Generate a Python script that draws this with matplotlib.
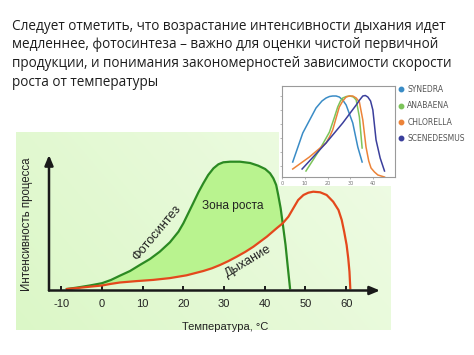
"""
Slide: temperature vs photosynthesis / respiration, with inset of algae growth curves.
"""

import matplotlib
matplotlib.use("Agg")
import matplotlib.pyplot as plt
from matplotlib.lines import Line2D
import numpy as np

W, H = 474, 355

# ---------------------------------------------------------------------------
# Data
# ---------------------------------------------------------------------------

title_lines = [
    "Следует отметить, что возрастание интенсивности дыхания идет",
    "медленнее, фотосинтеза – важно для оценки чистой первичной",
    "продукции, и понимания закономерностей зависимости скорости",
    "роста от температуры",
]

# main chart: temperature (°C) and relative intensity
photo_t = [-8.6, -6, -3, 0, 2.2, 4.4, 6.9, 9.3, 11.8, 14.2, 16.7, 18.8,
           20.0, 21.2, 22.4, 23.7, 24.9, 26.1, 27.4, 28.6, 29.8, 31.5,
           33.9, 36.4, 38.4, 40.1, 41.3, 42.1, 42.8, 43.3, 43.9, 44.4,
           45.1, 45.6, 46.2]
photo_y = [1.5, 3, 5, 7.3, 10.5, 14.8, 19.5, 25.5, 31.5, 38.8, 48.2, 58.8,
           67.2, 77.2, 87.2, 98.2, 107.2, 115.5, 122.2, 126.2, 128.2, 128.8,
           128.8, 127.5, 124.8, 121.5, 117.2, 112.2, 105.5, 95.5, 82.2, 67.2,
           45.5, 25.5, 2.2]

resp_t = [-8.6, -6, -3, 0, 2, 4.4, 8.5, 12.6, 16.7, 20.8, 24.9, 27, 29.0,
          31, 33.1, 35.2, 37.2, 40.5, 42.9, 44.4, 45.8, 47.0, 48.2, 49.5,
          50.7, 51.9, 53.6, 55.2, 56.8, 58.1, 58.9, 59.5, 60.1, 60.5, 60.8,
          61.0]
resp_y = [1.5, 2.5, 3.8, 5.0, 6.5, 8.0, 9.4, 10.6, 12.4, 15.2, 19.5, 22.2,
          25.5, 29.3, 33.8, 38.6, 43.8, 53.8, 62.2, 67.2, 73.8, 82.2, 90.5,
          95.5, 97.8, 98.8, 98.2, 95.5, 88.8, 80.5, 70.5, 58.8, 45.5, 32.2,
          18.8, 2.2]

temp_ticks = [-10, 0, 10, 20, 30, 40, 50, 60]

# inset: growth of four algae vs temperature
algae = ["SYNEDRA", "ANABAENA", "CHLORELLA", "SCENEDESMUS"]
algae_colors = ["#3a8cc6", "#7cc45a", "#ec8338", "#3b3f9c"]
synedra_t = [4.7, 9.1, 14.9, 17.5, 19.3, 20.8, 22.2, 23.7, 25.1, 26.6,
             28.1, 31, 33.2, 35.1]
synedra_y = [15, 44, 69, 76, 79, 80.5, 81, 81, 80, 77, 72, 54, 30, 15]
anabaena_t = [10.5, 16.4, 20.8, 23, 24.4, 25.6, 26.6, 28.2, 29.8, 31.3,
              32.5, 33.9, 35.1]
anabaena_y = [6, 27, 45, 60, 70, 76, 79, 80.5, 81, 80, 77, 60, 29]
chlorella_t = [4.7, 12, 19.3, 21, 22.2, 23.7, 25.1, 26.6, 28.1, 29.5, 31,
               32.5, 33.9, 35.4, 36.8, 38, 39, 40.5, 42, 44.9]
chlorella_y = [8, 20, 34, 41, 47, 59, 70, 76, 80, 81, 81, 79, 75, 57, 30,
               16, 9, 5, 2, 0]
scened_t = [8.8, 19.3, 26.6, 32.5, 34, 35.4, 36.5, 37.6, 38.8, 39.8, 40.5,
            41.2, 43, 44.9]
scened_y = [8, 34, 54, 72, 77, 81, 81.5, 80, 76, 67, 52, 37, 19, 6]
inset_ticks = [0, 10, 20, 30, 40]


def box(x0, y0, x1, y1):
    """pixel box (top-left origin) -> figure fraction rect"""
    return [x0 / W, 1 - y1 / H, (x1 - x0) / W, (y1 - y0) / H]


fig = plt.figure(figsize=(W / 100, H / 100), dpi=100)
fig.patch.set_facecolor("white")

# ---------------------------------------------------------------------------
# Title text
# ---------------------------------------------------------------------------
for i, line in enumerate(title_lines):
    fig.text(12 / W, 1 - (30 + 18.5 * i) / H, line, fontsize=9.8,
             family=["Open Sans", "DejaVu Sans"], color="#1e1e1e",
             va="baseline", ha="left")

# ---------------------------------------------------------------------------
# Green gradient background
# ---------------------------------------------------------------------------
bg = fig.add_axes(box(16, 132, 391, 330), zorder=0)
gx, gy = np.meshgrid(np.linspace(0, 1, 200), np.linspace(0, 1, 120))
w = np.clip(0.55 * gx + 0.25 * (1 - gy), 0, 1)
green = np.array([0.86, 0.97, 0.78])
pale = np.array([0.96, 0.99, 0.93])
img = green[None, None, :] * (1 - w[..., None]) + pale[None, None, :] * w[..., None]
bg.imshow(img, aspect="auto", origin="upper", extent=[0, 1, 0, 1])
bg.set_axis_off()

# ---------------------------------------------------------------------------
# Main chart
# ---------------------------------------------------------------------------
ax = fig.add_axes(box(49, 155, 380, 290.5), zorder=2)
ax.patch.set_alpha(0)
ax.set_xlim(-13, 68.3)
ax.set_ylim(0, 135.5)
for s in ax.spines.values():
    s.set_visible(False)

# growth zone fill: photosynthesis up to crossing, respiration back
cross = photo_t.index(44.4)
rcross = resp_t.index(44.4)
fill_x = photo_t[:cross + 1] + resp_t[:rcross + 1][::-1]
fill_y = photo_y[:cross + 1] + resp_y[:rcross + 1][::-1]
ax.fill(fill_x, fill_y, color="#b9f38f", lw=0, zorder=1)

ax.plot(photo_t, photo_y, color="#2b8a22", lw=1.6, zorder=3,
        solid_joinstyle="round", clip_on=False)
ax.plot(resp_t, resp_y, color="#e4481c", lw=1.6, zorder=3,
        solid_joinstyle="round", clip_on=False)

arrow = dict(arrowstyle="-|>,head_length=0.6,head_width=0.25",
             color="#1a1a1a", lw=1.8, shrinkA=0, shrinkB=0)
ax.annotate("", xy=(0, 1), xytext=(0, 0), xycoords="axes fraction",
            arrowprops=arrow, zorder=4)
ax.annotate("", xy=(1, 0), xytext=(0, 0), xycoords="axes fraction",
            arrowprops=arrow, zorder=4)

ax.set_xticks(temp_ticks)
ax.set_xticklabels([str(t) for t in temp_ticks])
ax.set_yticks([])
ax.tick_params(axis="x", direction="in", length=3.5, width=1.4,
               color="#1a1a1a", pad=6, labelsize=8, labelcolor="#222222")
for lab in ax.get_xticklabels():
    lab.set_family("Liberation Sans")

ax.set_xlabel("Температура, °C", fontsize=8, family="Liberation Sans",
              color="#222222", labelpad=7)
ax.xaxis.set_label_coords((225 - 49) / (380 - 49), -(322 - 290.5) / 135.5)
ax.set_ylabel("Интенсивность процесса", fontsize=8.3,
              family="Liberation Sans", color="#222222")
ax.yaxis.set_label_coords(-(49 - 33) / (380 - 49), (290.5 - 224) / 135.5)

ax.text(13.6, 58, "Фотосинтез", rotation=50, fontsize=9.2,
        family="Liberation Sans", color="#222222", ha="center", va="center")
ax.text(32.2, 84, "Зона роста", fontsize=8.6, family="Liberation Sans",
        color="#222222", ha="center", va="center")
ax.text(35.9, 29, "Дыхание", rotation=31, fontsize=9.2,
        family="Liberation Sans", color="#222222", ha="center", va="center")

# ---------------------------------------------------------------------------
# Inset (white image area with small Excel-like chart)
# ---------------------------------------------------------------------------
cover = fig.add_axes(box(279, 83, 400, 186), zorder=3)
cover.set_facecolor("white")
cover.set_xticks([])
cover.set_yticks([])
for s in cover.spines.values():
    s.set_visible(False)

ax_in = fig.add_axes(box(282, 86, 395, 177), zorder=4)
ax_in.set_facecolor("white")
ax_in.set_xlim(0, 49.5)
ax_in.set_ylim(0, 91)
for s in ax_in.spines.values():
    s.set_color("#9a9a9a")
    s.set_linewidth(0.8)
series = [(synedra_t, synedra_y), (anabaena_t, anabaena_y),
          (chlorella_t, chlorella_y), (scened_t, scened_y)]
for (t, y), name, c in zip(series, algae, algae_colors):
    ax_in.plot(t, y, color=c, lw=1.1, label=name, solid_joinstyle="round")
ax_in.set_xticks(inset_ticks)
ax_in.set_xticklabels([str(t) for t in inset_ticks])
ax_in.set_yticks(np.arange(11, 91, 14))
ax_in.set_yticklabels([])
ax_in.tick_params(axis="both", length=1.5, width=0.5, color="#9a9a9a",
                  pad=1.5, labelsize=3.6, labelcolor="#777777")

handles = [Line2D([], [], marker="o", ls="none", markersize=3.2,
                  color=c) for c in algae_colors]
fig.legend(handles, algae, loc="upper left",
           bbox_to_anchor=(399 / W, 1 - 85 / H), frameon=False,
           fontsize=5.5, labelcolor="#555555", handlelength=0.6,
           handletextpad=0.5, labelspacing=0.95, borderpad=0,
           borderaxespad=0)

fig.savefig("out.png", dpi=100)
